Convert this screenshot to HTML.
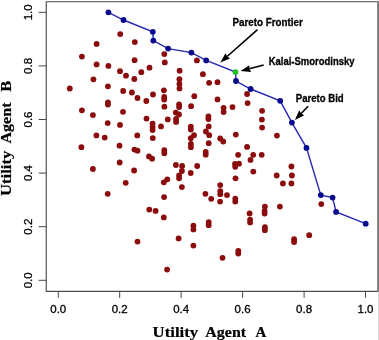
<!DOCTYPE html><html><head><meta charset="utf-8"><title>Pareto Frontier</title><style>html,body{margin:0;padding:0;background:#fff}svg{display:block}svg{font-family:"Liberation Sans",sans-serif}.ser{font-family:"Liberation Serif",serif;font-weight:bold}.cal{font-weight:bold}</style></head><body>
<svg width="379" height="340" viewBox="0 0 379 340">
<rect width="379" height="340" fill="#fff"/>
<path d="M378,1.7 H46.25 V291.4 H378" fill="none" stroke="#4d4d4d" stroke-width="1.15"/>
<rect x="378" y="0" width="1" height="340" fill="#d6d6d6"/>
<rect x="377.1" y="1.1" width="1.9" height="290.9" fill="#7c7c7c"/>
<line x1="58.25" y1="291.4" x2="58.25" y2="297.9" stroke="#333" stroke-width="0.9"/>
<line x1="119.7" y1="291.4" x2="119.7" y2="297.9" stroke="#333" stroke-width="0.9"/>
<line x1="181.15" y1="291.4" x2="181.15" y2="297.9" stroke="#333" stroke-width="0.9"/>
<line x1="242.6" y1="291.4" x2="242.6" y2="297.9" stroke="#333" stroke-width="0.9"/>
<line x1="304.1" y1="291.4" x2="304.1" y2="297.9" stroke="#333" stroke-width="0.9"/>
<line x1="365.5" y1="291.4" x2="365.5" y2="297.9" stroke="#333" stroke-width="0.9"/>
<line x1="38.6" y1="280.3" x2="46" y2="280.3" stroke="#333" stroke-width="0.9"/>
<line x1="38.6" y1="226.7" x2="46" y2="226.7" stroke="#333" stroke-width="0.9"/>
<line x1="38.6" y1="173.1" x2="46" y2="173.1" stroke="#333" stroke-width="0.9"/>
<line x1="38.6" y1="119.5" x2="46" y2="119.5" stroke="#333" stroke-width="0.9"/>
<line x1="38.6" y1="65.9" x2="46" y2="65.9" stroke="#333" stroke-width="0.9"/>
<line x1="38.6" y1="12.3" x2="46" y2="12.3" stroke="#333" stroke-width="0.9"/>
<text x="58.25" y="312.8" font-size="11.5" text-anchor="middle" fill="#000" stroke="#000" stroke-width="0.3">0.0</text>
<text x="119.7" y="312.8" font-size="11.5" text-anchor="middle" fill="#000" stroke="#000" stroke-width="0.3">0.2</text>
<text x="181.15" y="312.8" font-size="11.5" text-anchor="middle" fill="#000" stroke="#000" stroke-width="0.3">0.4</text>
<text x="242.6" y="312.8" font-size="11.5" text-anchor="middle" fill="#000" stroke="#000" stroke-width="0.3">0.6</text>
<text x="304.1" y="312.8" font-size="11.5" text-anchor="middle" fill="#000" stroke="#000" stroke-width="0.3">0.8</text>
<text x="365.5" y="312.8" font-size="11.5" text-anchor="middle" fill="#000" stroke="#000" stroke-width="0.3">1.0</text>
<text transform="translate(32.4,280.3) rotate(-90)" font-size="11.5" text-anchor="middle" fill="#000" stroke="#000" stroke-width="0.3">0.0</text>
<text transform="translate(32.4,226.7) rotate(-90)" font-size="11.5" text-anchor="middle" fill="#000" stroke="#000" stroke-width="0.3">0.2</text>
<text transform="translate(32.4,173.1) rotate(-90)" font-size="11.5" text-anchor="middle" fill="#000" stroke="#000" stroke-width="0.3">0.4</text>
<text transform="translate(32.4,119.5) rotate(-90)" font-size="11.5" text-anchor="middle" fill="#000" stroke="#000" stroke-width="0.3">0.6</text>
<text transform="translate(32.4,65.9) rotate(-90)" font-size="11.5" text-anchor="middle" fill="#000" stroke="#000" stroke-width="0.3">0.8</text>
<text transform="translate(32.4,12.3) rotate(-90)" font-size="11.5" text-anchor="middle" fill="#000" stroke="#000" stroke-width="0.3">1.0</text>
<g class="ser" font-size="14.6" fill="#000" stroke="#000" stroke-width="0.2">
<text x="152.6" y="336.9" textLength="45.6" lengthAdjust="spacingAndGlyphs">Utility</text>
<text x="205.3" y="336.9" textLength="40.8" lengthAdjust="spacingAndGlyphs">Agent</text>
<text x="255.4" y="336.9" textLength="10.8" lengthAdjust="spacingAndGlyphs">A</text>
<g transform="translate(10.6,0) rotate(-90)">
<text x="-196" y="0" textLength="45.3" lengthAdjust="spacingAndGlyphs">Utility</text>
<text x="-143.5" y="0" textLength="41" lengthAdjust="spacingAndGlyphs">Agent</text>
<text x="-91.7" y="0" textLength="11" lengthAdjust="spacingAndGlyphs">B</text>
</g></g>
<g fill="#8b0c0c">
<circle cx="120.2" cy="34.1" r="2.9"/>
<circle cx="96.6" cy="43.9" r="2.9"/>
<circle cx="134.8" cy="42.1" r="2.9"/>
<circle cx="81.9" cy="56.6" r="2.9"/>
<circle cx="96.6" cy="64.4" r="2.9"/>
<circle cx="108.4" cy="65.9" r="2.9"/>
<circle cx="134.6" cy="60.2" r="2.9"/>
<circle cx="120" cy="71.2" r="2.9"/>
<circle cx="126" cy="75.7" r="2.9"/>
<circle cx="93.4" cy="79.3" r="2.9"/>
<circle cx="134.3" cy="79" r="2.9"/>
<circle cx="107.9" cy="86.3" r="2.9"/>
<circle cx="164.3" cy="54.1" r="2.9"/>
<circle cx="164.8" cy="62.4" r="2.9"/>
<circle cx="196.9" cy="60.4" r="2.9"/>
<circle cx="149.5" cy="67.7" r="2.9"/>
<circle cx="141.3" cy="72.2" r="2.9"/>
<circle cx="179.6" cy="70.7" r="2.9"/>
<circle cx="202.9" cy="74.2" r="2.9"/>
<circle cx="179.4" cy="79.2" r="2.9"/>
<circle cx="179.4" cy="83.9" r="2.9"/>
<circle cx="179.5" cy="88.4" r="2.9"/>
<circle cx="209.1" cy="82.8" r="2.9"/>
<circle cx="217.5" cy="82.2" r="2.9"/>
<circle cx="69.8" cy="88.5" r="2.9"/>
<circle cx="123.2" cy="91" r="2.9"/>
<circle cx="131.9" cy="92.5" r="2.9"/>
<circle cx="107.9" cy="102.5" r="2.9"/>
<circle cx="107.9" cy="104.6" r="2.9"/>
<circle cx="81.9" cy="110.3" r="2.9"/>
<circle cx="92.9" cy="115.1" r="2.9"/>
<circle cx="123" cy="111.8" r="2.9"/>
<circle cx="107.7" cy="123.1" r="2.9"/>
<circle cx="120" cy="124.9" r="2.9"/>
<circle cx="96.4" cy="135.4" r="2.9"/>
<circle cx="104.7" cy="137.6" r="2.9"/>
<circle cx="81.4" cy="147.2" r="2.9"/>
<circle cx="119.5" cy="145.7" r="2.9"/>
<circle cx="134.4" cy="149.6" r="2.9"/>
<circle cx="119.7" cy="162.5" r="2.9"/>
<circle cx="137.5" cy="98" r="2.9"/>
<circle cx="146.3" cy="101" r="2.9"/>
<circle cx="153" cy="94.5" r="2.9"/>
<circle cx="163.9" cy="90.3" r="2.9"/>
<circle cx="164.2" cy="96.9" r="2.9"/>
<circle cx="164.2" cy="99.5" r="2.9"/>
<circle cx="164.4" cy="106.7" r="2.9"/>
<circle cx="179.1" cy="104.5" r="2.9"/>
<circle cx="179.1" cy="107.1" r="2.9"/>
<circle cx="194.3" cy="96.2" r="2.9"/>
<circle cx="191.1" cy="106.2" r="2.9"/>
<circle cx="217.5" cy="99.4" r="2.9"/>
<circle cx="223.6" cy="107.8" r="2.9"/>
<circle cx="223.6" cy="112" r="2.9"/>
<circle cx="175.8" cy="112.6" r="2.9"/>
<circle cx="179" cy="114.5" r="2.9"/>
<circle cx="176.1" cy="119" r="2.9"/>
<circle cx="176.1" cy="121.9" r="2.9"/>
<circle cx="146.5" cy="118.6" r="2.9"/>
<circle cx="167.8" cy="119.4" r="2.9"/>
<circle cx="208.4" cy="116.4" r="2.9"/>
<circle cx="208.4" cy="119.1" r="2.9"/>
<circle cx="152.6" cy="123.6" r="2.9"/>
<circle cx="152.6" cy="127.1" r="2.9"/>
<circle cx="152.6" cy="130.1" r="2.9"/>
<circle cx="161" cy="126.4" r="2.9"/>
<circle cx="190.8" cy="126.6" r="2.9"/>
<circle cx="190.8" cy="129.6" r="2.9"/>
<circle cx="208.7" cy="126.4" r="2.9"/>
<circle cx="205.9" cy="131.5" r="2.9"/>
<circle cx="209.2" cy="135.2" r="2.9"/>
<circle cx="137.3" cy="135.4" r="2.9"/>
<circle cx="152.8" cy="138.1" r="2.9"/>
<circle cx="194" cy="135.2" r="2.9"/>
<circle cx="190.8" cy="138.2" r="2.9"/>
<circle cx="220.2" cy="138.5" r="2.9"/>
<circle cx="223.2" cy="141.5" r="2.9"/>
<circle cx="190.9" cy="143.9" r="2.9"/>
<circle cx="190.9" cy="147.2" r="2.9"/>
<circle cx="208.7" cy="143.2" r="2.9"/>
<circle cx="137.5" cy="150.7" r="2.9"/>
<circle cx="164.3" cy="150.2" r="2.9"/>
<circle cx="164.3" cy="153.2" r="2.9"/>
<circle cx="205.7" cy="151.9" r="2.9"/>
<circle cx="205.7" cy="154.7" r="2.9"/>
<circle cx="149" cy="156.4" r="2.9"/>
<circle cx="152.1" cy="158.7" r="2.9"/>
<circle cx="175.9" cy="165" r="2.9"/>
<circle cx="182.1" cy="166" r="2.9"/>
<circle cx="197.2" cy="166" r="2.9"/>
<circle cx="247.1" cy="94" r="2.9"/>
<circle cx="247.6" cy="103.1" r="2.9"/>
<circle cx="232.5" cy="107.1" r="2.9"/>
<circle cx="262.1" cy="110.8" r="2.9"/>
<circle cx="261.9" cy="119.6" r="2.9"/>
<circle cx="262.1" cy="127.6" r="2.9"/>
<circle cx="235.8" cy="134.6" r="2.9"/>
<circle cx="276.9" cy="135.6" r="2.9"/>
<circle cx="247.1" cy="146.9" r="2.9"/>
<circle cx="238.1" cy="154.8" r="2.9"/>
<circle cx="253.2" cy="154.8" r="2.9"/>
<circle cx="261.7" cy="154.8" r="2.9"/>
<circle cx="250.5" cy="159.9" r="2.9"/>
<circle cx="235" cy="163.8" r="2.9"/>
<circle cx="239" cy="163.7" r="2.9"/>
<circle cx="235.2" cy="166.8" r="2.9"/>
<circle cx="291.4" cy="166.5" r="2.9"/>
<circle cx="92.9" cy="169" r="2.9"/>
<circle cx="134.1" cy="170.5" r="2.9"/>
<circle cx="125.7" cy="182.8" r="2.9"/>
<circle cx="107.7" cy="193.8" r="2.9"/>
<circle cx="181.9" cy="171" r="2.9"/>
<circle cx="190.7" cy="173" r="2.9"/>
<circle cx="179.1" cy="175.5" r="2.9"/>
<circle cx="179.1" cy="178.3" r="2.9"/>
<circle cx="167.3" cy="179.3" r="2.9"/>
<circle cx="163.8" cy="182.3" r="2.9"/>
<circle cx="181.9" cy="187.1" r="2.9"/>
<circle cx="164.1" cy="197.1" r="2.9"/>
<circle cx="220.2" cy="185.1" r="2.9"/>
<circle cx="220.3" cy="191.2" r="2.9"/>
<circle cx="220.3" cy="194.2" r="2.9"/>
<circle cx="205.4" cy="193.8" r="2.9"/>
<circle cx="211.2" cy="198.8" r="2.9"/>
<circle cx="220.1" cy="201.6" r="2.9"/>
<circle cx="149.3" cy="209.6" r="2.9"/>
<circle cx="155.6" cy="210.9" r="2.9"/>
<circle cx="163.8" cy="217.4" r="2.9"/>
<circle cx="208.7" cy="222.2" r="2.9"/>
<circle cx="208.7" cy="225.2" r="2.9"/>
<circle cx="193.4" cy="225.7" r="2.9"/>
<circle cx="193.4" cy="229.4" r="2.9"/>
<circle cx="178.6" cy="238.4" r="2.9"/>
<circle cx="137.5" cy="241.6" r="2.9"/>
<circle cx="193.4" cy="245.6" r="2.9"/>
<circle cx="253.3" cy="171.6" r="2.9"/>
<circle cx="235.5" cy="178.3" r="2.9"/>
<circle cx="276.7" cy="175.5" r="2.9"/>
<circle cx="291.9" cy="175.5" r="2.9"/>
<circle cx="282.9" cy="183.4" r="2.9"/>
<circle cx="291.4" cy="183.4" r="2.9"/>
<circle cx="227" cy="195.1" r="2.9"/>
<circle cx="235.3" cy="198.6" r="2.9"/>
<circle cx="235.3" cy="201.6" r="2.9"/>
<circle cx="264.9" cy="206.6" r="2.9"/>
<circle cx="264.6" cy="210.9" r="2.9"/>
<circle cx="264.6" cy="213.6" r="2.9"/>
<circle cx="279.9" cy="206.6" r="2.9"/>
<circle cx="249.6" cy="213.4" r="2.9"/>
<circle cx="250.1" cy="219.6" r="2.9"/>
<circle cx="250.1" cy="222.4" r="2.9"/>
<circle cx="264.9" cy="227.2" r="2.9"/>
<circle cx="264.9" cy="230.2" r="2.9"/>
<circle cx="294.1" cy="239.2" r="2.9"/>
<circle cx="294.1" cy="242" r="2.9"/>
<circle cx="309.2" cy="235.2" r="2.9"/>
<circle cx="321.3" cy="204.1" r="2.9"/>
<circle cx="222.5" cy="257.8" r="2.9"/>
<circle cx="167.1" cy="269.6" r="2.9"/>
<circle cx="238.3" cy="251" r="2.9"/>
<circle cx="238.3" cy="253.5" r="2.9"/>
</g>
<polyline fill="none" stroke="#2828b4" stroke-width="1.4" points="108.4,12.3 123.5,20 152.8,31.8 153.3,40.6 168.1,48.6 191.4,52.6 206.2,60.4 235.5,72.1 236,81 250.6,89 280.2,100.8 291.9,122.6 306.5,147.9 320.8,195.1 332.6,197.6 336.1,211.9 365.7,223.7"/>
<g fill="#0a0a8c">
<circle cx="108.4" cy="12.3" r="2.9"/>
<circle cx="123.5" cy="20" r="2.9"/>
<circle cx="152.8" cy="31.8" r="2.9"/>
<circle cx="153.3" cy="40.6" r="2.9"/>
<circle cx="168.1" cy="48.6" r="2.9"/>
<circle cx="191.4" cy="52.6" r="2.9"/>
<circle cx="206.2" cy="60.4" r="2.9"/>
<circle cx="236" cy="81" r="2.9"/>
<circle cx="250.6" cy="89" r="2.9"/>
<circle cx="280.2" cy="100.8" r="2.9"/>
<circle cx="291.9" cy="122.6" r="2.9"/>
<circle cx="306.5" cy="147.9" r="2.9"/>
<circle cx="320.8" cy="195.1" r="2.9"/>
<circle cx="332.6" cy="197.6" r="2.9"/>
<circle cx="336.1" cy="211.9" r="2.9"/>
<circle cx="365.7" cy="223.7" r="2.9"/>
</g>
<circle cx="235.5" cy="72.1" r="2.9" fill="#20bc20"/>
<g class="cal" font-size="10.7" fill="#000" stroke="#000" stroke-width="0.3">
<text x="232.5" y="25.8" textLength="70.2" lengthAdjust="spacingAndGlyphs">Pareto Frontier</text>
<text x="268.7" y="64.6" textLength="85.8" lengthAdjust="spacingAndGlyphs">Kalai-Smorodinsky</text>
<text x="295.8" y="101.9" textLength="47.9" lengthAdjust="spacingAndGlyphs">Pareto Bid</text>
</g>
<line x1="257.5" y1="29.7" x2="227.1" y2="56.5" stroke="#000" stroke-width="1.6"/><polygon points="220.3,62.5 225.5,53.3 227.1,56.5 230.1,58.5" fill="#000"/>
<line x1="263.7" y1="65.0" x2="249.3" y2="68.8" stroke="#000" stroke-width="1.6"/><polygon points="240.6,71.1 249.4,65.2 249.3,68.8 251.2,71.9" fill="#000"/>
<line x1="308.2" y1="106.2" x2="301.1" y2="113.5" stroke="#000" stroke-width="1.6"/><polygon points="294.8,119.9 299.3,110.3 301.1,113.5 304.3,115.2" fill="#000"/>
</svg></body></html>
